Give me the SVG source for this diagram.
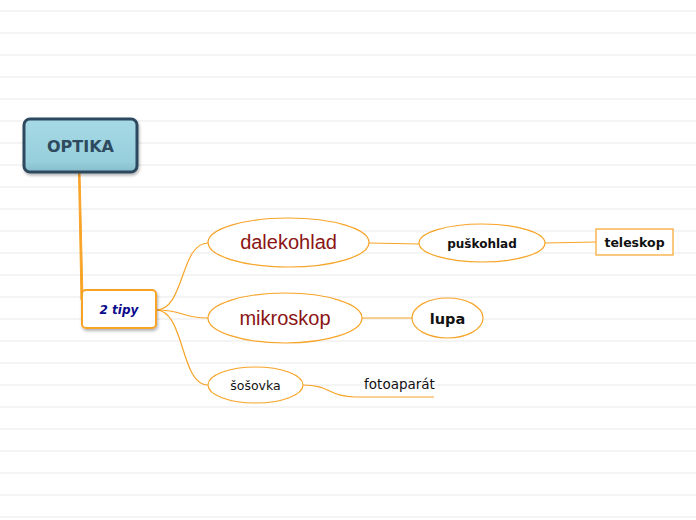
<svg xmlns="http://www.w3.org/2000/svg" width="696" height="520" viewBox="0 0 696 520">
<defs>
<linearGradient id="g1" x1="0" y1="0" x2="0" y2="1">
<stop offset="0" stop-color="#a6d9e5"/>
<stop offset="0.8" stop-color="#97cfdc"/>
<stop offset="1" stop-color="#86bccb"/>
</linearGradient>
<filter id="sh" x="-20%" y="-20%" width="140%" height="150%">
<feDropShadow dx="1" dy="2" stdDeviation="1.5" flood-color="#000" flood-opacity="0.3"/>
</filter>
</defs>
<style>
.grid line{stroke:#f1f1f1;stroke-width:1.5}
.c{fill:none;stroke:#f7a428;stroke-width:1.2}
.ov{fill:#fff;stroke:#f7a428;stroke-width:1.2}
.dv{font-family:"DejaVu Sans",Verdana,sans-serif}
.ar{font-family:"Liberation Sans",Arial,sans-serif}
</style>
<rect width="696" height="520" fill="#fff"/>
<g class="grid">
<line x1="0" y1="11" x2="696" y2="11"/><line x1="0" y1="33" x2="696" y2="33"/><line x1="0" y1="55" x2="696" y2="55"/><line x1="0" y1="77" x2="696" y2="77"/><line x1="0" y1="99" x2="696" y2="99"/><line x1="0" y1="121" x2="696" y2="121"/><line x1="0" y1="143" x2="696" y2="143"/><line x1="0" y1="165" x2="696" y2="165"/><line x1="0" y1="187" x2="696" y2="187"/><line x1="0" y1="209" x2="696" y2="209"/><line x1="0" y1="231" x2="696" y2="231"/><line x1="0" y1="253" x2="696" y2="253"/><line x1="0" y1="275" x2="696" y2="275"/><line x1="0" y1="297" x2="696" y2="297"/><line x1="0" y1="319" x2="696" y2="319"/><line x1="0" y1="341" x2="696" y2="341"/><line x1="0" y1="363" x2="696" y2="363"/><line x1="0" y1="385" x2="696" y2="385"/><line x1="0" y1="407" x2="696" y2="407"/><line x1="0" y1="429" x2="696" y2="429"/><line x1="0" y1="451" x2="696" y2="451"/><line x1="0" y1="473" x2="696" y2="473"/><line x1="0" y1="495" x2="696" y2="495"/><line x1="0" y1="517" x2="696" y2="517"/>
</g>
<g id="connectors">
<path d="M78.5,172 L80,172 L83,300 L81,300 Z" fill="#f7a428" stroke="#f7a428" stroke-width="1"/>
<path class="c" d="M156,310 C185,310 180,243 208,243"/>
<path class="c" d="M156,310 C185,310 180,318 208,318"/>
<path class="c" d="M156,310 C185,310 180,385 208,385"/>
<path class="c" d="M369,243 L420,244"/>
<path class="c" d="M545,243 L596,242"/>
<path class="c" d="M362,318 L412,318"/>
<path class="c" d="M303,385 C330,385 330,397 355,397 L434,397"/>
</g>
<g id="n-optika">
<rect x="24" y="119" width="113" height="53" rx="6" fill="url(#g1)" stroke="#2e4a5e" stroke-width="3" filter="url(#sh)"/>
<text x="80.5" y="152" text-anchor="middle" class="dv" font-size="16" font-weight="bold" fill="#2e4a5e">OPTIKA</text>
</g>
<g id="n-2tipy">
<rect x="82" y="290" width="74" height="38" rx="4" fill="#fff" stroke="#f7a428" stroke-width="2" filter="url(#sh)"/>
<text x="119" y="314" text-anchor="middle" class="dv" font-size="12" font-weight="bold" font-style="italic" fill="#0a0a8c">2 tipy</text>
</g>
<g id="n-dalekohlad">
<ellipse class="ov" cx="288.5" cy="242.5" rx="80.5" ry="24.5"/>
<text x="288.5" y="249" text-anchor="middle" class="ar" font-size="20" fill="#8b1414">dalekohlad</text>
</g>
<g id="n-mikroskop">
<ellipse class="ov" cx="285" cy="318" rx="77" ry="25"/>
<text x="285" y="325" text-anchor="middle" class="ar" font-size="20" fill="#8b1414">mikroskop</text>
</g>
<g id="n-sosovka">
<ellipse class="ov" cx="255.5" cy="385" rx="47.5" ry="18"/>
<text x="255.5" y="389.5" text-anchor="middle" class="dv" font-size="12.5" fill="#111">šošovka</text>
</g>
<g id="n-puskohlad">
<ellipse class="ov" cx="482" cy="243" rx="63" ry="19"/>
<text x="482" y="247.5" text-anchor="middle" class="dv" font-size="12" font-weight="bold" fill="#111">puškohlad</text>
</g>
<g id="n-teleskop">
<rect x="596" y="229" width="77" height="26" fill="#fff" stroke="#f7a428" stroke-width="1.2"/>
<text x="634.5" y="246.5" text-anchor="middle" class="dv" font-size="12.5" font-weight="bold" fill="#111">teleskop</text>
</g>
<g id="n-lupa">
<ellipse class="ov" cx="447.5" cy="318" rx="35.5" ry="20"/>
<text x="447.5" y="323.5" text-anchor="middle" class="dv" font-size="14.5" font-weight="bold" fill="#111">lupa</text>
</g>
<g id="n-fotoaparat">
<text x="399.5" y="389" text-anchor="middle" class="dv" font-size="13.5" fill="#111">fotoaparát</text>
</g>
</svg>
